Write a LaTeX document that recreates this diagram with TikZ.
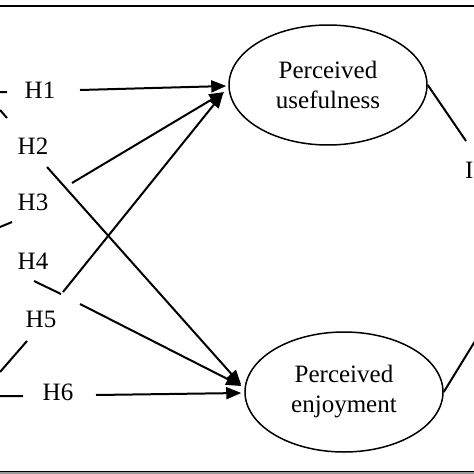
\documentclass[tikz,border=0pt]{standalone}
\usepackage{fontspec}
\setmainfont{Liberation Serif}
\usepackage{tikz}
\usetikzlibrary{arrows.meta,shapes,positioning,calc}

\begin{document}
\begin{tikzpicture}[x=1pt,y=-1pt,
          hyp/.style={font=\fontsize{25}{30}\selectfont,inner sep=0pt},
          construct/.style={ellipse,draw,line width=1.5pt,minimum width=198pt,
                     minimum height=120pt,align=center,inner sep=0pt,
                     font=\fontsize{25}{30}\selectfont},
          link/.style={line width=2pt},
          arr/.style={line width=2pt,-{Triangle[length=15pt,width=12pt]}}]
          \useasboundingbox (0,0) rectangle (474,474);
          \clip (0,0) rectangle (474,474);
          % frame of the cropped figure
          \fill[black!40] (0,472.4) rectangle (474,474);
          \draw[line width=1.4pt] (0,6) -- (474,6);
          \draw[line width=1.7pt] (0,471.4) -- (474,471.4);
          % constructs
          \node[construct] (PU) at (328,85) {Perceived\\usefulness};
          \node[construct] (PE) at (344,392) {Perceived\\enjoyment};
          \node[hyp,anchor=west] (BI) at (465,170) {I};
          % hypothesis labels
          \node[hyp] (H1) at (40,90) {H1};
          \node[hyp] (H2) at (33,146) {H2};
          \node[hyp] (H3) at (33,202) {H3};
          \node[hyp] (H4) at (33,261) {H4};
          \node[hyp] (H5) at (41,319) {H5};
          \node[hyp] (H6) at (58,392) {H6};
          % free ends of the paths
          \coordinate (s1) at (0,92);   \coordinate (e1) at (7,92);
          \coordinate (s2) at (0,110);  \coordinate (e2) at (7,118);
          \coordinate (s3) at (0,227);  \coordinate (e3) at (12,222);
          \coordinate (s4) at (34,281); \coordinate (e4) at (61,294);
          \coordinate (s5) at (0,372);  \coordinate (e5) at (27,341);
          \coordinate (s6) at (0,396);  \coordinate (e6) at (23,396);
          \coordinate (o1) at (80,90);
          \coordinate (o2) at (47,167);
          \coordinate (o3) at (72,183);
          \coordinate (o4) at (80,304);
          \coordinate (o5) at (63,292);
          \coordinate (o6) at (96,395);
          \coordinate (r1) at (466,141);
          \coordinate (r2) at (480,333);
          \draw[link] (s1)--(e1) (s2)--(e2) (s3)--(e3)
                      (s4)--(e4) (s5)--(e5) (s6)--(e6);
          \draw[arr] (o1) -- ($(PU.west)+(-2,1)$);
          \draw[arr] (o3) -- ($(PU.west)+(-4,7)$);
          \draw[arr] (o5) -- ($(PU.west)+(-5,8)$);
          \draw[arr] (o2) -- ($(PE.west)+(-3,-7)$);
          \draw[arr] (o4) -- ($(PE.west)+(-3,-6)$);
          \draw[arr] (o6) -- ($(PE.west)+(-3,1)$);
          \draw[link] (PU.east) -- (r1) (PE.east) -- (r2);
        \end{tikzpicture}
\end{document}
